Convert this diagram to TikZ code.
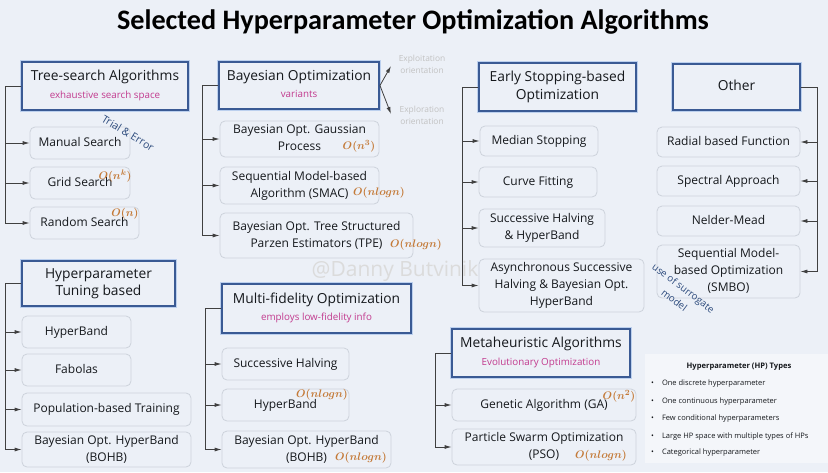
\documentclass[tikz,border=0pt]{standalone}
\usepackage{fontspec}
\usepackage{amsmath}
\setmainfont{Open Sans}
\newfontfamily\titlefont{Carlito}
\usetikzlibrary{arrows.meta}
\definecolor{hpbg}{HTML}{ECF0F7}
\definecolor{hppanel}{HTML}{F4F6FA}
\definecolor{hpblue}{HTML}{3A5A94}
\definecolor{hpglow}{HTML}{BCD0EE}
\definecolor{hpgrey}{HTML}{CDD2DB}
\definecolor{hptext}{HTML}{15181C}
\definecolor{hppink}{HTML}{C23A8E}
\definecolor{hporange}{HTML}{C47A38}
\definecolor{hpnavy}{HTML}{2C4A7C}
\newcommand{\hpsubtext}[1]{{\color{hppink}\fontsize{9.8}{11}\selectfont #1}}
\tikzset{
  hphead/.style={draw=hpblue,line width=1.9pt,fill=hpbg,align=center,inner sep=0pt,text=hptext,font=\fontsize{13.8}{17.5}\selectfont,preaction={draw=hpglow,line width=3.6pt}},
  hpitem/.style={draw=hpgrey,line width=0.8pt,fill=hpbg,rounded corners=5pt,align=center,inner sep=0pt,text=hptext,font=\fontsize{12}{17}\selectfont},
  hpcost/.style={text=hporange,font=\fontsize{11}{13}\selectfont\boldmath,inner sep=0pt},
  hpnote/.style={text=hpnavy,font=\fontsize{9.8}{15}\selectfont,align=center,inner sep=0pt},
  hpfade/.style={text=black!24,font=\fontsize{8.4}{12}\selectfont,align=center,inner sep=0pt},
  hptype/.style={text=hptext,font=\fontsize{7.5}{9}\selectfont,anchor=west,inner sep=0pt},
  hplink/.style={draw=black!75,line width=0.8pt,-{Latex[length=7pt,width=4pt]}}
}
\begin{document}
\begin{tikzpicture}[x=1pt,y=-1pt]
\fill[hpbg] (0,0) rectangle (828,472);
\path[use as bounding box] (0,0) rectangle (828,472);
\node[font=\titlefont\bfseries\fontsize{28.2}{32}\selectfont,text=black] (title) at (413,22) {Selected Hyperparameter Optimization Algorithms};
\node[text=black!14,font=\fontsize{21}{23}\selectfont] (mark) at (395,271) {@Danny Butvinik};
% heading boxes
\foreach \nm/\cx/\cy/\w/\h/\lab in {
  tree/105/86/166/48/{Tree-search Algorithms\\\hpsubtext{exhaustive search space}},
  bayes/299/85.5/160/47/{Bayesian Optimization\\\hpsubtext{variants}},
  early/557.5/87/157/48/{Early Stopping-based\\Optimization},
  other/736.5/87/127/46/{Other},
  tuning/98.5/283.5/153/45/{Hyperparameter\\Tuning based},
  multi/316.5/308.5/189/49/{Multi-fidelity Optimization\\\hpsubtext{employs low-fidelity info}},
  meta/541/353/178/48/{Metaheuristic Algorithms\\\hpsubtext{Evolutionary Optimization}}}
  \node[hphead,minimum width=\w,minimum height=\h] (\nm) at (\cx,\cy) {\strut\lab\strut};
% algorithm boxes
\foreach \nm/\cx/\cy/\w/\h/\lab in {
  manual/80/143/100/32/{Manual Search},
  grid/80/183/100/32/{Grid Search},
  random/84.5/223/109/32/{Random Search},
  gauss/299.5/139/159/36/{Bayesian Opt. Gaussian\\Process},
  smac/299.5/185.5/159/37/{Sequential Model-based\\Algorithm (SMAC)},
  tpe/316.5/235.5/193/45/{Bayesian Opt. Tree Structured\\Parzen Estimators (TPE)},
  median/539/141/118/30/{Median Stopping},
  curve/538/182/118/30/{Curve Fitting},
  halving/542/228/126/38/{Successive Halving\\\& HyperBand},
  asha/561.5/285.5/165/53/{Asynchronous Successive\\Halving \& Bayesian Opt.\\HyperBand},
  radial/728.5/142/143/30/{Radial based Function},
  spectral/728.5/181/143/30/{Spectral Approach},
  nelder/728.5/221/143/30/{Nelder-Mead},
  smbo/728.5/271.5/143/53/{Sequential Model-\\based Optimization\\(SMBO)},
  hband/76.5/332/109/32/{HyperBand},
  fabolas/76.5/370/109/32/{Fabolas},
  pbt/106.5/409.5/169/33/{Population-based Training},
  bohb/106.5/449.5/169/35/{Bayesian Opt. HyperBand\\(BOHB)},
  shalv/285.5/364/127/32/{Successive Halving},
  mband/285.5/405/127/32/{HyperBand},
  mbohb/306.5/449.5/169/37/{Bayesian Opt. HyperBand\\(BOHB)},
  ga/544/405/184/32/{Genetic Algorithm (GA)},
  pso/544/447/184/36/{Particle Swarm Optimization\\(PSO)}}
  \node[hpitem,minimum width=\w,minimum height=\h] (\nm) at (\cx,\cy) {\strut\lab\strut};
% connectors
\foreach \nm in {manual,grid,random}
  \draw[hplink] (tree.west) -- ++(-16,0) |- (\nm.west);
\foreach \nm in {gauss,smac,tpe}
  \draw[hplink] (bayes.west) -- ++(-16,0) |- (\nm.west);
\foreach \nm in {median,curve,halving,asha}
  \draw[hplink] (early.west) -- ++(-16,0) |- (\nm.west);
\foreach \nm in {radial,spectral,nelder,smbo}
  \draw[hplink] (other.east) -- ++(16,0) |- (\nm.east);
\foreach \nm in {hband,fabolas,pbt,bohb}
  \draw[hplink] (tuning.west) -- ++(-16,0) |- (\nm.west);
\foreach \nm in {shalv,mband,mbohb}
  \draw[hplink] (multi.west) -- ++(-16,0) |- (\nm.west);
\foreach \nm in {ga,pso}
  \draw[hplink] (meta.west) -- ++(-16,0) |- (\nm.west);
% exploit / explore
\coordinate (exploit) at (391,66);
\coordinate (explore) at (391,114);
\draw[hplink] (bayes.east) -- (exploit);
\draw[hplink] (bayes.east) -- (explore);
\node[hpfade] (exploitlab) at (422,64) {Exploitation\\orientation};
\node[hpfade] (explorelab) at (422,115) {Exploration\\orientation};
% notes
\node[hpnote,rotate=-31,font=\fontsize{10.5}{12}\selectfont] (trial) at (128,133) {Trial \& Error};
\node[hpnote,rotate=-37] (surr) at (679,294) {use of surrogate\\model};
% complexity
\node[hpcost] (c1) at (115,176) {$O(n^k)$};
\node[hpcost] (c2) at (125,214) {$O(n)$};
\node[hpcost] (c3) at (359,146) {$O(n^3)$};
\node[hpcost] (c4) at (379,193) {$O(nlogn)$};
\node[hpcost] (c5) at (416,245) {$O(nlogn)$};
\node[hpcost] (c6) at (322,395) {$O(nlogn)$};
\node[hpcost] (c7) at (361,458) {$O(nlogn)$};
\node[hpcost] (c8) at (619,396) {$O(n^2)$};
\node[hpcost] (c9) at (601,456) {$O(nlogn)$};
% HP types
\fill[hppanel] (645,354) rectangle (828,463);
\node[text=hptext,font=\bfseries\fontsize{7.6}{9}\selectfont] (hptitle) at (739,367) {Hyperparameter (HP) Types};
\foreach \i/\yy/\lab in {1/384/One discrete hyperparameter,2/402/One continuous hyperparameter,3/419/Few conditional hyperparameters,4/437/Large HP space with multiple types of HPs,5/453/Categorical hyperparameter}
  \node[hptype] (hpt\i) at (651,\yy) {•\hspace{8pt}\lab};
\end{tikzpicture}
\end{document}
